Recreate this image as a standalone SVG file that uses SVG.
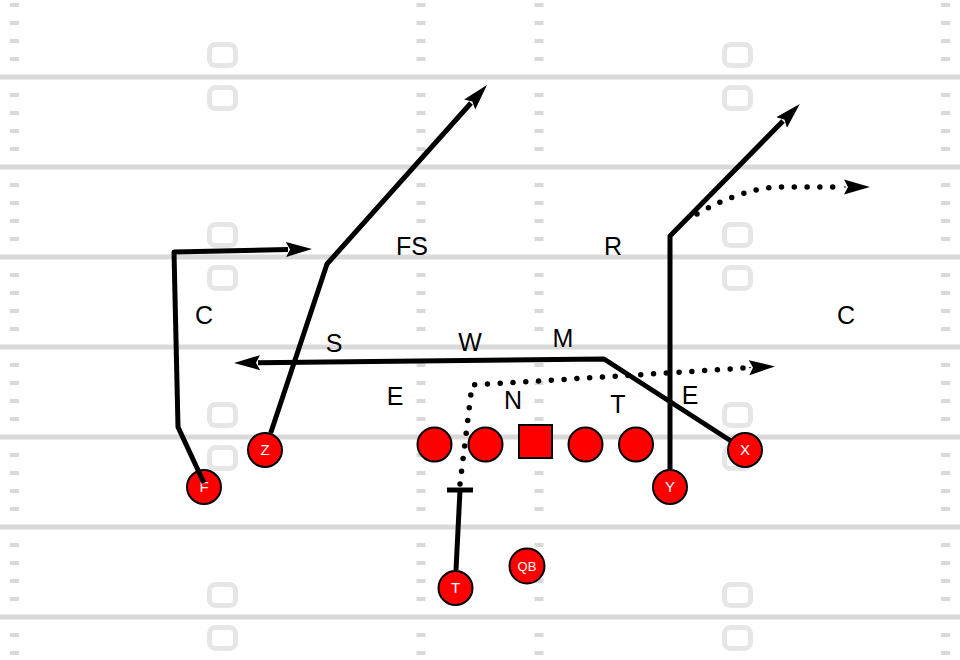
<svg xmlns="http://www.w3.org/2000/svg" width="960" height="660" viewBox="0 0 960 660">
<style>
.yl{stroke:#d9d9d9;stroke-width:5}
.num{fill:none;stroke:#e6e6e6;stroke-width:5}
.route{fill:none;stroke:#000;stroke-width:5;stroke-linejoin:round}
.dot{fill:none;stroke:#000;stroke-width:5.5;stroke-linecap:round;stroke-dasharray:0 12.8}
.pl{fill:#ff0000;stroke:#000;stroke-width:2}
.plt{fill:#fff;font-family:"Liberation Sans",Arial,sans-serif;font-size:15px;text-anchor:middle}
.def{fill:#000;font-family:"Liberation Sans",Arial,sans-serif;font-size:25px;text-anchor:middle}
</style>
<defs>
<pattern id="hash" patternUnits="userSpaceOnUse" x="0" y="-13" width="960" height="90">
<g fill="#d9d9d9">
<rect x="10" y="16" width="9" height="4"/><rect x="10" y="34" width="9" height="4"/><rect x="10" y="52" width="9" height="4"/><rect x="10" y="70" width="9" height="4"/>
<rect x="416.5" y="16" width="9" height="4"/><rect x="416.5" y="34" width="9" height="4"/><rect x="416.5" y="52" width="9" height="4"/><rect x="416.5" y="70" width="9" height="4"/>
<rect x="534.5" y="16" width="9" height="4"/><rect x="534.5" y="34" width="9" height="4"/><rect x="534.5" y="52" width="9" height="4"/><rect x="534.5" y="70" width="9" height="4"/>
<rect x="941" y="16" width="9" height="4"/><rect x="941" y="34" width="9" height="4"/><rect x="941" y="52" width="9" height="4"/><rect x="941" y="70" width="9" height="4"/>
</g>
</pattern>
<g id="zero2"><rect class="num" x="-13" y="-32.5" width="26" height="21" rx="6"/><rect class="num" x="-13" y="10.5" width="26" height="21" rx="6"/></g>
<marker id="arr" markerUnits="userSpaceOnUse" markerWidth="30" markerHeight="20" viewBox="0 -10 30 20" refX="2" refY="0" orient="auto">
<path d="M0,-7.5 L26,0 L0,7.5 L4,0 Z" fill="#000"/>
</marker>
</defs>
<g id="field">
<rect width="960" height="660" fill="#fff"/>
<rect width="960" height="660" fill="url(#hash)"/>
<line class="yl" x1="0" y1="77" x2="960" y2="77"/>
<line class="yl" x1="0" y1="167" x2="960" y2="167"/>
<line class="yl" x1="0" y1="257" x2="960" y2="257"/>
<line class="yl" x1="0" y1="347" x2="960" y2="347"/>
<line class="yl" x1="0" y1="437" x2="960" y2="437"/>
<line class="yl" x1="0" y1="527" x2="960" y2="527"/>
<line class="yl" x1="0" y1="617" x2="960" y2="617"/>
<use href="#zero2" x="222.5" y="77"/><use href="#zero2" x="737.5" y="77"/>
<use href="#zero2" x="222.5" y="257"/><use href="#zero2" x="737.5" y="257"/>
<use href="#zero2" x="222.5" y="437"/><use href="#zero2" x="737.5" y="437"/>
<use href="#zero2" x="222.5" y="617"/><use href="#zero2" x="737.5" y="617"/>
</g>
<g id="defense">
<text class="def" x="412" y="255">FS</text>
<text class="def" x="613" y="255">R</text>
<text class="def" x="204" y="324">C</text>
<text class="def" x="846" y="324">C</text>
<text class="def" x="334" y="352">S</text>
<text class="def" x="470" y="351">W</text>
<text class="def" x="563" y="347">M</text>
<text class="def" x="395" y="405">E</text>
<text class="def" x="513" y="409">N</text>
<text class="def" x="618" y="413">T</text>
<text class="def" x="690" y="404">E</text>
</g>
<g id="line">
<circle class="pl" cx="434.5" cy="444.5" r="17"/>
<circle class="pl" cx="485.5" cy="444.5" r="17"/>
<rect class="pl" x="519" y="425" width="33" height="33"/>
<circle class="pl" cx="585.5" cy="444.5" r="17"/>
<circle class="pl" cx="636" cy="444.5" r="17"/>
</g>
<g id="F"><circle class="pl" cx="204" cy="487" r="17"/><text class="plt" x="204" y="492">F</text></g>
<g id="Z"><circle class="pl" cx="265" cy="450" r="17"/><text class="plt" x="265" y="455">Z</text></g>
<g id="Y"><circle class="pl" cx="670" cy="487" r="17"/><text class="plt" x="670" y="492">Y</text></g>
<g id="X"><circle class="pl" cx="745" cy="450" r="17"/><text class="plt" x="745" y="455">X</text></g>
<g id="T"><circle class="pl" cx="455.5" cy="588" r="17"/><text class="plt" x="455.5" y="593">T</text></g>
<g id="QB"><circle class="pl" cx="527" cy="566" r="17.5"/><text class="plt" x="527" y="570.5" style="font-size:13px">QB</text></g>
<g id="routes">
<path class="route" d="M204,483 L178,427 L174,252 L288,249.5" marker-end="url(#arr)"/>
<path class="route" d="M270.7,433 L327,264 L471,103" marker-end="url(#arr)"/>
<path class="route" d="M670,469 L670,236 L783,121" marker-end="url(#arr)"/>
<path class="dot" d="M697,214 Q737,191 775,187 L844,187"/>
<path class="route" d="M844,187 L846,187" marker-end="url(#arr)" style="stroke-width:1"/>
<path class="route" d="M731,441 L604,359 L258,362.7" marker-end="url(#arr)"/>
<path class="route" d="M456,570 L460,490"/>
<path class="route" d="M447,490 L473,490"/>
<path class="dot" d="M460,484 L472,385 L620,376 L751,367.6"/>
<path class="route" d="M749,367.7 L751,367.6" marker-end="url(#arr)" style="stroke-width:1"/>
</g>
</svg>
